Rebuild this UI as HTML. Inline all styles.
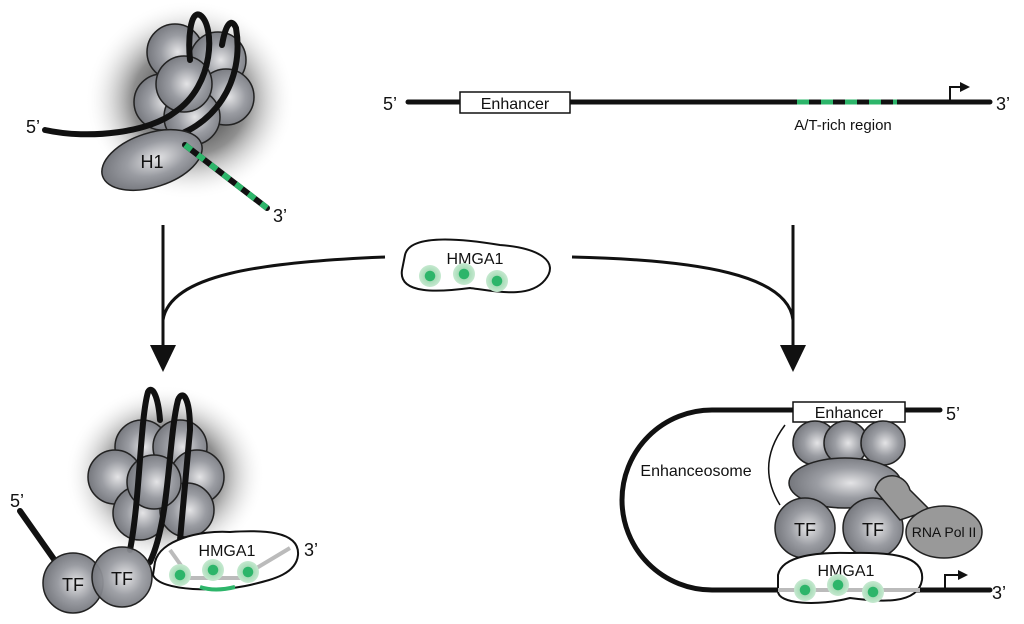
<!DOCTYPE html>
<html><head><meta charset="utf-8"><style>body{margin:0;background:#fff}svg{display:block}text{font-family:"Liberation Sans",sans-serif;fill:#111}</style></head><body>
<svg width="1024" height="624" viewBox="0 0 1024 624" xmlns="http://www.w3.org/2000/svg">
<defs>
<radialGradient id="sp" cx="0.55" cy="0.5" r="0.6"><stop offset="0" stop-color="#e4e4e6"/><stop offset="0.5" stop-color="#9a9ca2"/><stop offset="1" stop-color="#6e7076"/></radialGradient>
<radialGradient id="glow" cx="0.5" cy="0.5" r="0.5"><stop offset="0" stop-color="#000" stop-opacity="0.95"/><stop offset="0.55" stop-color="#333" stop-opacity="0.55"/><stop offset="1" stop-color="#fff" stop-opacity="0"/></radialGradient>
<radialGradient id="gd" cx="0.5" cy="0.5" r="0.5"><stop offset="0" stop-color="#2db56a"/><stop offset="0.45" stop-color="#2db56a"/><stop offset="0.5" stop-color="#a8dcb8"/><stop offset="1" stop-color="#c6e9d0"/></radialGradient>
<marker id="ah" markerWidth="10" markerHeight="10" refX="8" refY="5" orient="auto" markerUnits="userSpaceOnUse"><path d="M0,0 L10,5 L0,10 z" fill="#111"/></marker>
</defs>

<!-- top-left nucleosome -->
<ellipse cx="190" cy="100" rx="105" ry="100" fill="url(#glow)"/>
<g stroke="#222" stroke-width="1.5" fill="url(#sp)">
<circle cx="175" cy="52" r="28"/><circle cx="218" cy="60" r="28"/>
<circle cx="162" cy="102" r="28"/><circle cx="226" cy="97" r="28"/>
<circle cx="192" cy="117" r="28"/><circle cx="184" cy="84" r="28"/>
</g>
<path d="M45,130 C90,140 150,132 175,112 C215,85 215,25 200,15 C190,10 188,40 190,60" fill="none" stroke="#111" stroke-width="6" stroke-linecap="round"/>
<path d="M160,140 C215,130 245,80 236,28 C232,18 226,22 222,45" fill="none" stroke="#111" stroke-width="6" stroke-linecap="round"/>
<ellipse cx="152" cy="160" rx="52" ry="27" transform="rotate(-18 152 160)" fill="url(#sp)" stroke="#222" stroke-width="1.5"/>
<text x="152" y="168" font-size="18" text-anchor="middle">H1</text>
<line x1="185" y1="145" x2="267" y2="208" stroke="#111" stroke-width="6" stroke-linecap="round"/>
<line x1="185" y1="145" x2="267" y2="208" stroke="#2db56a" stroke-width="6" stroke-dasharray="8,8"/>
<text x="273" y="222" font-size="18">3’</text>
<text x="26" y="133" font-size="18">5’</text>

<!-- top right DNA -->
<line x1="408" y1="102" x2="990" y2="102" stroke="#111" stroke-width="5" stroke-linecap="round"/>
<line x1="797" y1="102" x2="897" y2="102" stroke="#2db56a" stroke-width="5" stroke-dasharray="12,12"/>
<rect x="460" y="92" width="110" height="21" fill="#fff" stroke="#111" stroke-width="1.5"/>
<text x="515" y="109" font-size="16" text-anchor="middle">Enhancer</text>
<text x="383" y="110" font-size="18">5’</text>
<text x="996" y="110" font-size="18">3’</text>
<text x="843" y="130" font-size="15" text-anchor="middle">A/T-rich region</text>
<path d="M950,100 L950,87 L968,87" fill="none" stroke="#111" stroke-width="2" marker-end="url(#ah)"/>

<!-- arrows -->
<line x1="163" y1="225" x2="163" y2="350" stroke="#111" stroke-width="3"/>
<path d="M150,345 L176,345 L163,372 z" fill="#111"/>
<line x1="793" y1="225" x2="793" y2="350" stroke="#111" stroke-width="3"/>
<path d="M780,345 L806,345 L793,372 z" fill="#111"/>
<path d="M385,257 C260,262 170,275 163,320" fill="none" stroke="#111" stroke-width="3"/>
<path d="M572,257 C700,260 788,275 793,320" fill="none" stroke="#111" stroke-width="3"/>

<!-- HMGA1 middle -->
<path d="M405,255 C410,232 470,240 500,245 C540,248 560,262 545,280 C530,298 500,292 470,288 C440,292 398,295 402,270 Z" fill="#fff" stroke="#111" stroke-width="2"/>
<text x="475" y="264" font-size="16" text-anchor="middle">HMGA1</text>
<circle cx="430" cy="276" r="11" fill="url(#gd)"/><circle cx="464" cy="274" r="11" fill="url(#gd)"/><circle cx="497" cy="281" r="11" fill="url(#gd)"/>

<!-- bottom left -->
<ellipse cx="165" cy="475" rx="100" ry="90" fill="url(#glow)"/>
<g stroke="#222" stroke-width="1.5" fill="url(#sp)">
<circle cx="142" cy="447" r="27"/><circle cx="180" cy="447" r="27"/>
<circle cx="115" cy="477" r="27"/><circle cx="197" cy="477" r="27"/>
<circle cx="140" cy="513" r="27"/><circle cx="187" cy="510" r="27"/>
<circle cx="154" cy="482" r="27"/>
</g>
<path d="M130,550 C140,500 140,420 148,392 C152,385 158,395 160,420" fill="none" stroke="#111" stroke-width="6" stroke-linecap="round"/>
<path d="M150,562 C170,520 168,440 178,400 C182,390 190,395 190,430 L180,540" fill="none" stroke="#111" stroke-width="6" stroke-linecap="round"/>
<line x1="20" y1="511" x2="58" y2="565" stroke="#111" stroke-width="6" stroke-linecap="round"/>
<text x="10" y="507" font-size="18">5’</text>
<circle cx="73" cy="583" r="30" fill="url(#sp)" stroke="#222" stroke-width="1.5"/>
<circle cx="122" cy="577" r="30" fill="url(#sp)" stroke="#222" stroke-width="1.5" fill-opacity="0.95"/>
<text x="73" y="591" font-size="18" text-anchor="middle">TF</text>
<text x="122" y="585" font-size="18" text-anchor="middle">TF</text>
<path d="M155,562 C160,540 200,530 230,532 C260,530 300,530 298,555 C296,575 270,580 250,585 C220,592 160,592 153,575 Z" fill="#fff" stroke="#111" stroke-width="2"/>
<path d="M170,550 L190,578 L240,578 L290,548" fill="none" stroke="#bbb" stroke-width="4"/>
<path d="M200,587 Q215,592 235,587" fill="none" stroke="#2db56a" stroke-width="4"/>
<text x="227" y="556" font-size="16" text-anchor="middle">HMGA1</text>
<circle cx="180" cy="575" r="11" fill="url(#gd)"/><circle cx="213" cy="570" r="11" fill="url(#gd)"/><circle cx="248" cy="572" r="11" fill="url(#gd)"/>
<text x="304" y="556" font-size="18">3’</text>

<!-- bottom right -->
<path d="M940,410 L712,410 A90,90 0 0 0 712,590 L990,590" fill="none" stroke="#111" stroke-width="5" stroke-linecap="round"/>
<rect x="793" y="402" width="112" height="20" fill="#fff" stroke="#111" stroke-width="1.5"/>
<text x="849" y="418" font-size="16" text-anchor="middle">Enhancer</text>
<text x="946" y="420" font-size="18">5’</text>
<text x="992" y="599" font-size="18">3’</text>
<path d="M945,588 L945,575 L966,575" fill="none" stroke="#111" stroke-width="2" marker-end="url(#ah)"/>
<text x="696" y="476" font-size="16" text-anchor="middle">Enhanceosome</text>
<path d="M785,425 Q755,465 780,505" fill="none" stroke="#111" stroke-width="1.5"/>
<g stroke="#222" stroke-width="1.5" fill="url(#sp)">
<circle cx="815" cy="443" r="22"/><circle cx="846" cy="443" r="22"/><circle cx="883" cy="443" r="22"/>
<ellipse cx="845" cy="483" rx="56" ry="25"/>
<circle cx="805" cy="528" r="30"/><circle cx="873" cy="528" r="30"/>
</g>
<path d="M875,490 C880,470 905,472 910,490 L930,510 L900,520 Z" fill="#999" stroke="#222" stroke-width="1.5"/>
<ellipse cx="944" cy="532" rx="38" ry="26" fill="#999" stroke="#222" stroke-width="1.5"/>
<text x="944" y="537" font-size="14" text-anchor="middle">RNA Pol II</text>
<text x="805" y="536" font-size="18" text-anchor="middle">TF</text>
<text x="873" y="536" font-size="18" text-anchor="middle">TF</text>
<path d="M778,575 C782,555 820,552 850,553 C890,552 925,555 922,580 C918,605 880,602 850,598 C820,606 776,605 778,590 Z" fill="#fff" stroke="#111" stroke-width="2"/>
<line x1="778" y1="590" x2="920" y2="590" stroke="#bbb" stroke-width="4"/>
<text x="846" y="576" font-size="16" text-anchor="middle">HMGA1</text>
<circle cx="805" cy="590" r="11" fill="url(#gd)"/><circle cx="838" cy="585" r="11" fill="url(#gd)"/><circle cx="873" cy="592" r="11" fill="url(#gd)"/>
</svg>
</body></html>
